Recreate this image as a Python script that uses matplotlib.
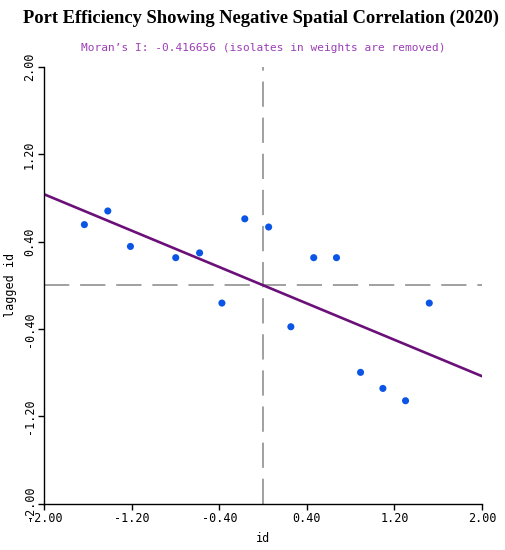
import matplotlib
matplotlib.use("Agg")
import numpy as np
import matplotlib.pyplot as plt

# values
id_vals = [-1.634, -1.420, -1.213, -0.799, -0.581, -0.377, -0.168, 0.050,
           0.253, 0.462, 0.670, 0.890, 1.094, 1.301, 1.518]
lagged_vals = [0.556, 0.681, 0.356, 0.253, 0.297, -0.163, 0.609, 0.534,
               -0.380, 0.253, 0.253, -0.798, -0.945, -1.058, -0.163]
moran_i = -0.416656
ticks = [-2.0, -1.2, -0.4, 0.4, 1.2, 2.0]
tick_labels = ["-2.00", "-1.20", "-0.40", "0.40", "1.20", "2.00"]

fig = plt.figure(figsize=(5.06, 5.5), dpi=100)
ax = fig.add_axes([0.0876, 0.0845, 0.865, 0.7936])

# quadrant lines
ax.axvline(0, color="#999999", lw=1.3, ls=(0, (14, 6)), zorder=1)
ax.axhline(0, color="#999999", lw=1.3, ls=(0, (14, 6)), zorder=1)

# regression line, slope = Moran's I
xs = np.array([-2.0, 2.0])
ax.plot(xs, moran_i * xs, color="#6a1078", lw=1.9, zorder=2)

ax.scatter(id_vals, lagged_vals, s=26, color="#0a55e6", edgecolors="none", zorder=3)

ax.set_xlim(-2, 2)
ax.set_ylim(-2, 2)
for side in ["top", "right"]:
    ax.spines[side].set_visible(False)
for side in ["left", "bottom"]:
    ax.spines[side].set_color("black")
    ax.spines[side].set_linewidth(1.0)

mono = "DejaVu Sans Mono"
ax.set_xticks(ticks)
ax.set_xticklabels(tick_labels, fontfamily=mono, fontsize=8.5)
ax.set_yticks(ticks)
ax.set_yticklabels(tick_labels, fontfamily=mono, fontsize=8.5, rotation=90, va="center")
ax.tick_params(direction="out", length=4, width=1, colors="black", pad=2)

ax.set_xlabel("id", fontfamily=mono, fontsize=8.5, labelpad=5)
ax.set_ylabel("lagged id", fontfamily=mono, fontsize=8.5, labelpad=4)

fig.text(0.516, 0.967, "Port Efficiency Showing Negative Spatial Correlation (2020)",
         ha="center", va="center", fontfamily="Liberation Serif",
         fontweight="bold", fontsize=13.3)
fig.text(0.52, 0.912, "Moran\u2019s I: -0.416656 (isolates in weights are removed)",
         ha="center", va="center", fontfamily=mono, fontsize=8, color="#9b3fb5")

fig.savefig("out.png", dpi=100)
